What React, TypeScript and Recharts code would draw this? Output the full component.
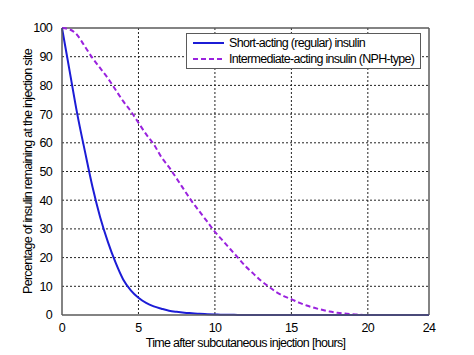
import React from "react";
import {
  LineChart,
  Line,
  XAxis,
  YAxis,
  CartesianGrid,
  ReferenceLine,
} from "recharts";

// time after injection [hours], half-hour steps
const hours = [
  0, 0.5, 1, 1.5, 2, 2.5, 3, 3.5, 4, 4.5, 5, 5.5, 6, 6.5, 7, 7.5, 8, 8.5, 9, 9.5,
  10, 10.5, 11, 11.5, 12, 12.5, 13, 13.5, 14, 14.5, 15, 15.5, 16, 16.5, 17, 17.5,
  18, 18.5, 19, 19.5, 20, 20.5, 21, 21.5, 22, 22.5, 23, 23.5, 24,
];

const shortActing = [
  100, 85, 70, 57, 44.5, 34, 25.5, 18.3, 12.4, 8.6, 6, 4.2, 3, 2.2, 1.5, 1.1,
  0.8, 0.6, 0.4, 0.3, 0.2, 0.1, 0.1, 0, 0, 0, 0, 0, 0, 0, 0, 0, 0, 0, 0, 0, 0,
  0, 0, 0, 0, 0, 0, 0, 0, 0, 0, 0, 0,
];

const intermediateActing = [
  100, 99.5, 97.5, 93.5, 89.5, 86, 82.5, 78.5, 74.5, 71, 67, 63, 59.5, 55, 51.5,
  47.5, 43.5, 39.5, 36, 32.5, 29, 26, 23, 20, 17, 14.5, 12, 10, 8, 6.6, 5.5, 4.3,
  3.3, 2.5, 1.8, 1.2, 0.8, 0.5, 0.3, 0.1, 0, 0, 0, 0, 0, 0, 0, 0, 0,
];

const xTicks = [0, 5, 10, 15, 20, 24];
const yTicks = [0, 10, 20, 30, 40, 50, 60, 70, 80, 90, 100];

const seriesNames = [
  "Short-acting (regular) insulin",
  "Intermediate-acting insulin (NPH-type)",
];

const blue = "#1c1cd6";
const purple = "#9a22de";
const axisGray = "#5a5a5a";
const font = "'Liberation Sans', Arial, sans-serif";
const textStyle = {
  fill: "#000",
  fontSize: 12.5,
  fontFamily: font,
  letterSpacing: -0.7,
};

const data = hours.map((t, i) => ({
  t,
  short: shortActing[i],
  nph: intermediateActing[i],
}));

function LegendBox() {
  const row = { display: "flex", alignItems: "center", height: 16 };
  const swatch = { marginRight: 5, flexShrink: 0 };
  return (
    <div
      style={{
        position: "absolute",
        left: 186,
        top: 33,
        width: 235,
        height: 36,
        boxSizing: "border-box",
        background: "#fff",
        border: `1px solid ${axisGray}`,
        padding: "1px 0 0 6px",
        fontFamily: font,
        fontSize: 12.5,
        letterSpacing: -0.7,
        color: "#000",
        lineHeight: "16px",
        whiteSpace: "nowrap",
      }}
    >
      <div style={row}>
        <svg width={31} height={4} style={swatch}>
          <line x1={0} y1={2} x2={31} y2={2} stroke={blue} strokeWidth={2} />
        </svg>
        {seriesNames[0]}
      </div>
      <div style={row}>
        <svg width={31} height={4} style={swatch}>
          <line
            x1={0}
            y1={2}
            x2={31}
            y2={2}
            stroke={purple}
            strokeWidth={2}
            strokeDasharray="5 3"
          />
        </svg>
        {seriesNames[1]}
      </div>
    </div>
  );
}

export default function App() {
  return (
    <div
      style={{
        position: "absolute",
        left: 0,
        top: 0,
        width: 474,
        height: 355,
        background: "#fff",
      }}
    >
      <LineChart
        width={474}
        height={355}
        data={data}
        margin={{ top: 28, right: 45, bottom: 0, left: 0 }}
      >
        <CartesianGrid
          stroke="#222"
          strokeDasharray="2 2"
          verticalValues={[5, 10, 15, 20]}
          horizontalValues={[10, 20, 30, 40, 50, 60, 70, 80, 90]}
        />
        <XAxis
          dataKey="t"
          type="number"
          domain={[0, 24]}
          ticks={xTicks}
          height={40}
          tick={textStyle}
          tickLine={false}
          axisLine={{ stroke: axisGray, strokeWidth: 1.5 }}
          tickMargin={2}
          label={{
            value: "Time after subcutaneous injection [hours]",
            position: "insideBottom",
            offset: 8,
            style: textStyle,
          }}
        />
        <YAxis
          width={62}
          type="number"
          domain={[0, 100]}
          ticks={yTicks}
          tick={textStyle}
          tickLine={false}
          axisLine={{ stroke: axisGray, strokeWidth: 1.5 }}
          tickMargin={4}
          label={{
            value: "Percentage of insulin remaining at the injection site",
            angle: -90,
            position: "insideLeft",
            offset: 28,
            style: { ...textStyle, textAnchor: "middle" },
          }}
        />
        <ReferenceLine y={100} stroke={axisGray} strokeWidth={1.5} />
        <ReferenceLine x={24} stroke={axisGray} strokeWidth={1.5} />
        <Line
          type="monotone"
          dataKey="nph"
          name={seriesNames[1]}
          stroke={purple}
          strokeWidth={2}
          strokeDasharray="5 3"
          dot={false}
          isAnimationActive={false}
        />
        <Line
          type="monotone"
          dataKey="short"
          name={seriesNames[0]}
          stroke={blue}
          strokeWidth={2}
          dot={false}
          isAnimationActive={false}
        />
      </LineChart>
      <LegendBox />
    </div>
  );
}
